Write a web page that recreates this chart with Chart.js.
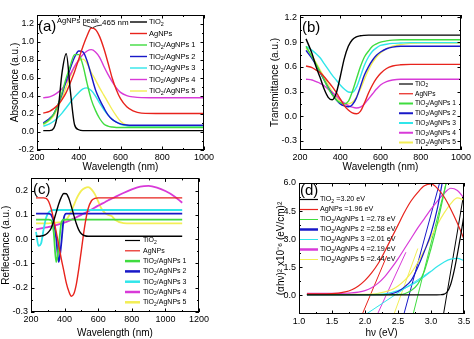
<!DOCTYPE html>
<html>
<head>
<meta charset="utf-8">
<script src="https://cdn.jsdelivr.net/npm/chart.js@4.4.0/dist/chart.umd.min.js"></script>
<style>
  body { margin: 0; background: #fff; }
  #wrap { position: relative; width: 474px; height: 339px; overflow: hidden; }
  canvas { position: absolute; }
</style>
</head>
<body>
<div id="wrap">
  <canvas id="chartA" width="237" height="176" style="left:0;top:0"></canvas>
  <canvas id="chartB" width="237" height="176" style="left:237px;top:0"></canvas>
  <canvas id="chartC" width="237" height="169" style="left:0;top:170px"></canvas>
  <canvas id="chartD" width="237" height="169" style="left:237px;top:170px"></canvas>
</div>
<script>
const FONT = '"Liberation Sans", Arial, sans-serif';

const NAMES = ["TiO₂", "AgNPs", "TiO₂/AgNPs 1", "TiO₂/AgNPs 2", "TiO₂/AgNPs 3", "TiO₂/AgNPs 4", "TiO₂/AgNPs 5"];
const COLORS = ["#000000", "#e8231c", "#3fdc3f", "#1818c8", "#30e6ea", "#d83ad8", "#f3ee55"];

// (a) absorbance
const ABS_WL = [230, 260, 280, 300, 320, 340, 360, 380, 400, 420, 440, 460, 480, 500, 520, 540, 560, 580, 600, 630, 660, 700, 800, 1000];
const ABS_TIO2 = [0.015, 0.015, 0.04, 0.22, 0.66, 0.87, 0.45, 0.08, 0.025, 0.015, 0.015, 0.015, 0.015, 0.015, 0.015, 0.015, 0.015, 0.015, 0.015, 0.015, 0.015, 0.015, 0.015, 0.015];
const ABS_AG = [0.21, 0.23, 0.26, 0.3, 0.36, 0.44, 0.55, 0.67, 0.81, 0.95, 1.07, 1.155, 1.14, 1.06, 0.93, 0.77, 0.6, 0.47, 0.37, 0.28, 0.235, 0.21, 0.205, 0.205];
const ABS_1 = [0.09, 0.14, 0.2, 0.3, 0.44, 0.6, 0.74, 0.86, 0.86, 0.74, 0.54, 0.36, 0.24, 0.15, 0.09, 0.065, 0.055, 0.05, 0.05, 0.05, 0.05, 0.05, 0.05, 0.05];
const ABS_2 = [0.1, 0.15, 0.2, 0.3, 0.42, 0.57, 0.71, 0.83, 0.9, 0.89, 0.79, 0.63, 0.47, 0.36, 0.27, 0.19, 0.14, 0.11, 0.09, 0.077, 0.075, 0.075, 0.075, 0.075];
const ABS_3 = [0.065, 0.09, 0.12, 0.16, 0.21, 0.27, 0.33, 0.39, 0.44, 0.48, 0.49, 0.46, 0.4, 0.32, 0.25, 0.19, 0.14, 0.11, 0.085, 0.07, 0.065, 0.065, 0.065, 0.065];
const ABS_4 = [0.38, 0.39, 0.41, 0.44, 0.48, 0.55, 0.64, 0.73, 0.8, 0.86, 0.9, 0.915, 0.89, 0.83, 0.73, 0.64, 0.56, 0.49, 0.44, 0.405, 0.39, 0.382, 0.38, 0.38];
const ABS_5 = [0.08, 0.13, 0.18, 0.27, 0.38, 0.5, 0.62, 0.72, 0.79, 0.81, 0.76, 0.66, 0.58, 0.49, 0.41, 0.33, 0.25, 0.18, 0.12, 0.075, 0.06, 0.06, 0.06, 0.06];

// (b) transmittance
const TR_WL = [230, 260, 280, 300, 320, 340, 360, 380, 400, 420, 440, 460, 480, 500, 520, 540, 560, 580, 600, 630, 660, 700, 750, 800, 1000];
const TR_TIO2 = [0.94, 0.76, 0.6, 0.47, 0.33, 0.23, 0.2, 0.28, 0.48, 0.7, 0.85, 0.93, 0.965, 0.978, 0.983, 0.985, 0.985, 0.985, 0.985, 0.985, 0.985, 0.985, 0.985, 0.985, 0.985];
const TR_AG = [0.61, 0.59, 0.56, 0.53, 0.48, 0.42, 0.36, 0.29, 0.21, 0.13, 0.075, 0.04, 0.03, 0.06, 0.16, 0.28, 0.38, 0.46, 0.52, 0.58, 0.61, 0.625, 0.63, 0.63, 0.63];
const TR_1 = [0.85, 0.72, 0.63, 0.54, 0.44, 0.34, 0.26, 0.2, 0.165, 0.15, 0.18, 0.3, 0.45, 0.6, 0.72, 0.79, 0.85, 0.88, 0.9, 0.915, 0.925, 0.93, 0.93, 0.93, 0.93];
const TR_2 = [0.8, 0.7, 0.62, 0.53, 0.44, 0.35, 0.27, 0.2, 0.15, 0.125, 0.115, 0.14, 0.22, 0.36, 0.5, 0.6, 0.68, 0.74, 0.78, 0.82, 0.84, 0.85, 0.85, 0.85, 0.85];
const TR_3 = [0.85, 0.8, 0.76, 0.71, 0.64, 0.57, 0.5, 0.44, 0.38, 0.33, 0.295, 0.29, 0.35, 0.48, 0.62, 0.72, 0.79, 0.83, 0.86, 0.875, 0.885, 0.89, 0.895, 0.895, 0.895];
const TR_4 = [0.45, 0.44, 0.42, 0.4, 0.37, 0.33, 0.29, 0.25, 0.2, 0.16, 0.13, 0.11, 0.1, 0.11, 0.15, 0.21, 0.27, 0.33, 0.38, 0.42, 0.44, 0.45, 0.45, 0.45, 0.45];
const TR_5 = [0.83, 0.73, 0.65, 0.56, 0.47, 0.38, 0.3, 0.23, 0.18, 0.155, 0.15, 0.17, 0.23, 0.33, 0.45, 0.56, 0.65, 0.72, 0.77, 0.82, 0.85, 0.87, 0.885, 0.89, 0.89];

// (c) reflectance
const REFL_WL = [230, 245, 260, 275, 290, 305, 320, 335, 350, 365, 380, 395, 410, 425, 440, 455, 470, 485, 500, 520, 540, 560, 580, 600, 620, 640, 660, 680, 700, 750, 800, 850, 900, 950, 1000, 1050, 1100];
const REFL_TIO2 = [0.012, 0.012, 0.013, 0.015, 0.02, 0.03, 0.045, 0.075, 0.11, 0.145, 0.172, 0.188, 0.187, 0.168, 0.135, 0.098, 0.063, 0.037, 0.022, 0.014, 0.012, 0.012, 0.012, 0.012, 0.012, 0.012, 0.012, 0.012, 0.012, 0.012, 0.012, 0.012, 0.012, 0.012, 0.012, 0.012, 0.012];
const REFL_AG = [0.17, 0.17, 0.17, 0.17, 0.168, 0.155, 0.125, 0.08, 0.03, -0.025, -0.08, -0.13, -0.18, -0.215, -0.235, -0.225, -0.185, -0.12, -0.045, 0.055, 0.125, 0.158, 0.168, 0.17, 0.17, 0.17, 0.17, 0.17, 0.17, 0.17, 0.17, 0.17, 0.17, 0.17, 0.17, 0.17, 0.17];
const REFL_1 = [0.08, 0.08, 0.08, 0.08, 0.08, 0.08, 0.078, 0.03, -0.095, -0.03, 0.065, 0.08, 0.08, 0.08, 0.08, 0.08, 0.08, 0.08, 0.08, 0.08, 0.08, 0.08, 0.08, 0.08, 0.08, 0.08, 0.08, 0.08, 0.08, 0.08, 0.08, 0.08, 0.08, 0.08, 0.08, 0.08, 0.08];
const REFL_2 = [0.105, 0.105, 0.105, 0.105, 0.105, 0.105, 0.1, 0.07, 0.005, -0.095, -0.02, 0.085, 0.105, 0.105, 0.105, 0.105, 0.105, 0.105, 0.105, 0.105, 0.105, 0.105, 0.105, 0.105, 0.105, 0.105, 0.105, 0.105, 0.105, 0.105, 0.105, 0.105, 0.105, 0.105, 0.105, 0.105, 0.105];
const REFL_3 = [0.03, -0.028, -0.018, 0.04, 0.088, 0.11, 0.118, 0.12, 0.12, 0.12, 0.12, 0.12, 0.12, 0.12, 0.12, 0.12, 0.12, 0.12, 0.12, 0.12, 0.12, 0.12, 0.12, 0.12, 0.12, 0.12, 0.12, 0.12, 0.12, 0.12, 0.12, 0.12, 0.12, 0.12, 0.12, 0.12, 0.12];
const REFL_4 = [0.04, 0.042, 0.044, 0.046, 0.048, 0.05, 0.053, 0.055, 0.058, 0.061, 0.064, 0.067, 0.071, 0.075, 0.08, 0.085, 0.09, 0.095, 0.1, 0.107, 0.115, 0.122, 0.13, 0.138, 0.145, 0.152, 0.16, 0.166, 0.173, 0.19, 0.205, 0.216, 0.219, 0.212, 0.198, 0.178, 0.15];
const REFL_5 = [0.065, 0.065, 0.065, 0.065, 0.065, 0.065, 0.066, 0.067, 0.068, 0.069, 0.07, 0.074, 0.08, 0.095, 0.115, 0.14, 0.165, 0.185, 0.2, 0.21, 0.214, 0.205, 0.185, 0.155, 0.125, 0.108, 0.1, 0.095, 0.08, 0.066, 0.065, 0.065, 0.065, 0.065, 0.065, 0.065, 0.065];

// (d) Tauc plot
const TAUC_EV = [1.12, 1.3, 1.5, 1.6, 1.7, 1.8, 1.9, 2.0, 2.1, 2.2, 2.3, 2.4, 2.5, 2.6, 2.7, 2.8, 2.9, 3.0, 3.1, 3.2, 3.3, 3.4, 3.5];
const TAUC_TIO2_EV = [1.12, 2.0, 3.0, 3.15, 3.2, 3.25, 3.3, 3.35, 3.4, 3.45, 3.5];
const TAUC_TIO2 = [0.02, 0.02, 0.02, 0.03, 0.06, 0.2, 0.6, 1.3, 2.2, 3.2, 4.3];
const TAUC_AG = [0.08, 0.08, 0.09, 0.12, 0.18, 0.3, 0.5, 0.8, 1.2, 1.7, 2.35, 3.05, 3.75, 4.45, 5.05, 5.5, 5.85, 5.95, 5.7, 5.25, 4.6, 3.85, 3.0];
const TAUC_1 = [0.03, 0.03, 0.03, 0.03, 0.03, 0.03, 0.03, 0.03, 0.03, 0.03, 0.03, 0.03, 0.04, 0.08, 0.25, 0.6, 1.3, 2.5, 3.9, 5.5, 7.2];
const TAUC_2 = [0.03, 0.03, 0.03, 0.03, 0.03, 0.03, 0.03, 0.03, 0.03, 0.03, 0.04, 0.08, 0.2, 0.45, 0.8, 1.5, 2.35, 3.3, 4.7, 6.6];
const TAUC_3 = [0.03, 0.03, 0.03, 0.03, 0.03, 0.03, 0.03, 0.03, 0.03, 0.05, 0.08, 0.15, 0.25, 0.38, 0.55, 0.75, 1.0, 1.28, 1.55, 1.78, 1.93, 1.97, 1.85];
const TAUC_4 = [0.1, 0.1, 0.1, 0.1, 0.11, 0.13, 0.17, 0.25, 0.4, 0.65, 1.0, 1.45, 1.95, 2.5, 3.05, 3.6, 4.1, 4.6, 5.05, 5.45, 5.72, 5.6, 5.2];
const TAUC_5 = [0.05, 0.05, 0.05, 0.05, 0.05, 0.05, 0.05, 0.05, 0.06, 0.1, 0.18, 0.3, 0.5, 0.8, 1.2, 1.75, 2.4, 3.1, 3.8, 4.4, 4.9, 5.2, 5.1];
// linear fits (TiO2, AgNPs, 1..5): end points
const FIT_X = [[3.19, 3.5], [1.96, 2.33], [2.73, 3.23], [2.59, 3.13], [2.02, 2.98], [2.19, 2.62], [2.44, 2.8]];
const FIT_Y = [[-1, 5.5], [-1, 2.1], [-1, 6], [-1, 6], [-1, 1.25], [-1, 2.3], [-1, 2.5]];
const GAP_LABELS = ["TiO₂ =3.20 eV", "AgNPs =1.96 eV", "TiO₂/AgNPs 1 =2.78 eV", "TiO₂/AgNPs 2 =2.58 eV", "TiO₂/AgNPs 3 =2.01 eV", "TiO₂/AgNPs 4 =2.19 eV", "TiO₂/AgNPs 5 =2.44 eV"];

const series = (xs, ys, i, width) => ({
  label: NAMES[i],
  data: ys.map((y, k) => ({ x: xs[k], y })),
  borderColor: COLORS[i],
  borderWidth: width || 1.3,
  pointRadius: 0,
  showLine: true,
  fill: false,
  cubicInterpolationMode: "monotone",
});

// draw "TiO₂" with a real subscript
const richText = (ctx, str, x, y, size) => {
  const parts = str.split("₂");
  let cx = x;
  parts.forEach((p, i) => {
    ctx.font = `${size}px ${FONT}`;
    ctx.fillText(p, cx, y);
    cx += ctx.measureText(p).width;
    if (i < parts.length - 1) {
      ctx.font = `${size * 0.72}px ${FONT}`;
      ctx.fillText("2", cx, y + size * 0.28);
      cx += ctx.measureText("2").width;
    }
  });
};

const axis = ({ min, max, ticks, digits, size, title, titlePad, tickPad }) => ({
  type: "linear",
  min,
  max,
  afterBuildTicks: (s) => {
    s.ticks = ticks.map((v) => ({ value: v }));
  },
  afterFit: (s) => {
    if (s.isHorizontal()) s.height = size;
    else s.width = size;
  },
  grid: { display: false, drawTicks: false },
  border: { display: false },
  ticks: {
    color: "#000",
    padding: tickPad,
    autoSkip: false,
    maxRotation: 0,
    font: { family: FONT, size: 9 },
    callback: (v) => Number(v).toFixed(digits),
  },
  title: { display: true, text: title, color: "#000", padding: titlePad, font: { family: FONT, size: 10 } },
});

// box + inward major/minor ticks on all four sides
const framePlugin = {
  id: "frame",
  afterDatasetsDraw(chart) {
    const { ctx, chartArea: a, scales } = chart;
    ctx.save();
    ctx.strokeStyle = "#000";
    ctx.lineWidth = 1;
    ctx.strokeRect(Math.round(a.left) + 0.5, Math.round(a.top) + 0.5, Math.round(a.right - a.left) - 1, Math.round(a.bottom - a.top) - 1);
    ctx.beginPath();
    ["x", "y"].forEach((id) => {
      const s = scales[id];
      const vals = s.ticks.map((t) => t.value);
      const marks = vals.map((v) => [v, 3.5]);
      for (let k = 0; k < vals.length - 1; k++) marks.push([(vals[k] + vals[k + 1]) / 2, 2]);
      marks.forEach(([v, len]) => {
        if (v < s.min || v > s.max) return;
        const p = Math.round(s.getPixelForValue(v)) + 0.5;
        if (id === "x") {
          ctx.moveTo(p, a.bottom); ctx.lineTo(p, a.bottom - len);
          ctx.moveTo(p, a.top); ctx.lineTo(p, a.top + len);
        } else {
          ctx.moveTo(a.left, p); ctx.lineTo(a.left + len, p);
          ctx.moveTo(a.right, p); ctx.lineTo(a.right - len, p);
        }
      });
    });
    ctx.stroke();
    ctx.restore();
  },
};

const decor = (cfg) => ({
  id: "decor",
  afterDraw(chart) {
    const { ctx, chartArea: a } = chart;
    ctx.save();
    ctx.fillStyle = "#000";
    ctx.textBaseline = "middle";
    ctx.font = `15px ${FONT}`;
    ctx.fillText(cfg.letter, a.left + cfg.letterDx, a.top + cfg.letterDy);
    const L = cfg.legend;
    L.labels.forEach((lab, i) => {
      const y = L.y + i * L.dy;
      ctx.strokeStyle = COLORS[i];
      ctx.lineWidth = L.widths[i];
      ctx.beginPath();
      ctx.moveTo(L.x0, y);
      ctx.lineTo(L.x1, y);
      ctx.stroke();
      ctx.fillStyle = "#000";
      richText(ctx, lab, L.tx, y, L.size);
    });
    if (cfg.extra) cfg.extra(ctx, chart);
    ctx.restore();
  },
});

const makeChart = (id, cfg) =>
  new Chart(document.getElementById(id), {
    type: "scatter",
    data: { datasets: cfg.datasets },
    options: {
      responsive: false,
      animation: false,
      events: [],
      layout: { padding: cfg.padding },
      plugins: { legend: { display: false }, tooltip: { enabled: false } },
      scales: { x: cfg.x, y: cfg.y },
    },
    plugins: [framePlugin, decor(cfg)],
  });

// (a)
makeChart("chartA", {
  datasets: [ABS_TIO2, ABS_AG, ABS_1, ABS_2, ABS_3, ABS_4, ABS_5].map((ys, i) => series(ABS_WL, ys, i, 1.4)),
  padding: { top: 15, right: 33, left: 0, bottom: 0 },
  x: axis({ min: 200, max: 1000, ticks: [200, 400, 600, 800, 1000], digits: 0, size: 26, title: "Wavelength (nm)", titlePad: { top: 0, bottom: 3 }, tickPad: 2 }),
  y: axis({ min: -0.2, max: 1.3, ticks: [-0.2, 0, 0.2, 0.4, 0.6, 0.8, 1.0, 1.2], digits: 1, size: 37, title: "Absorbance (a.u.)", titlePad: { top: 9, bottom: 0 }, tickPad: 3 }),
  letter: "(a)", letterDx: 1, letterDy: 12,
  legend: { labels: NAMES, x0: 130, x1: 147, tx: 149, y: 22, dy: 11.5, size: 7.5, widths: [1.4, 1.4, 1.4, 1.4, 1.4, 1.4, 1.4] },
  extra: (ctx, chart) => {
    const { x, y } = chart.scales;
    const px = x.getPixelForValue(465);
    const py = y.getPixelForValue(1.16);
    ctx.fillStyle = "#000";
    ctx.font = `7.5px ${FONT}`;
    ctx.fillText("AgNPs peak", 57, 21);
    ctx.font = `8px ${FONT}`;
    ctx.fillText("465 nm", 102, 23);
    ctx.strokeStyle = "#000";
    ctx.lineWidth = 0.8;
    ctx.beginPath();
    ctx.moveTo(83, 25);
    ctx.quadraticCurveTo(88, 26, px - 0.5, py);
    ctx.moveTo(102, 25);
    ctx.quadraticCurveTo(96, 25.5, px + 0.5, py);
    ctx.stroke();
  },
});

// (b)
makeChart("chartB", {
  datasets: [TR_TIO2, TR_AG, TR_1, TR_2, TR_3, TR_4, TR_5].map((ys, i) => series(TR_WL, ys, i, 1.4)),
  padding: { top: 15, right: 13, left: 0, bottom: 0 },
  x: axis({ min: 200, max: 1000, ticks: [200, 400, 600, 800, 1000], digits: 0, size: 26, title: "Wavelength (nm)", titlePad: { top: 0, bottom: 3 }, tickPad: 2 }),
  y: axis({ min: -0.41, max: 1.23, ticks: [-0.3, 0, 0.3, 0.6, 0.9, 1.2], digits: 1, size: 63, title: "Transmittance (a.u.)", titlePad: { top: 32, bottom: 0 }, tickPad: 3 }),
  letter: "(b)", letterDx: 2, letterDy: 13,
  legend: { labels: NAMES, x0: 162, x1: 176, tx: 178, y: 84, dy: 9.75, size: 6.6, widths: [1.2, 1.2, 2, 2, 2, 2, 2] },
});

// (c)
makeChart("chartC", {
  datasets: [REFL_TIO2, REFL_AG, REFL_1, REFL_2, REFL_3, REFL_4, REFL_5].map((ys, i) => series(REFL_WL, ys, i, i >= 2 ? 1.8 : 1.4)),
  padding: { top: 7, right: 38, left: 0, bottom: 0 },
  x: axis({ min: 200, max: 1200, ticks: [200, 400, 600, 800, 1000, 1200], digits: 0, size: 27, title: "Wavelength (nm)", titlePad: { top: 0, bottom: 0 }, tickPad: 2 }),
  y: axis({ min: -0.3, max: 0.25, ticks: [-0.3, -0.2, -0.1, 0, 0.1, 0.2], digits: 1, size: 31, title: "Reflectance (a.u.)", titlePad: { top: 0, bottom: 0 }, tickPad: 3 }),
  letter: "(c)", letterDx: 2, letterDy: 11,
  legend: { labels: NAMES, x0: 125, x1: 140, tx: 143, y: 70.5, dy: 10.3, size: 7, widths: [1.2, 1.2, 2.5, 2.5, 2.5, 2.5, 2.5] },
});

// (d)
const tauc = [TAUC_TIO2, TAUC_AG, TAUC_1, TAUC_2, TAUC_3, TAUC_4, TAUC_5].map((ys, i) => series(i === 0 ? TAUC_TIO2_EV : TAUC_EV, ys, i, 1.2));
const fits = FIT_X.map((xs, i) => ({ ...series(xs, FIT_Y[i], i, 1), label: NAMES[i] + " fit" }));
makeChart("chartD", {
  datasets: [...tauc, ...fits],
  padding: { top: 13, right: 10, left: 0, bottom: 0 },
  x: axis({ min: 1.0, max: 3.5, ticks: [1.0, 1.5, 2.0, 2.5, 3.0, 3.5], digits: 1, size: 25, title: "hν (eV)", titlePad: { top: 0, bottom: 0 }, tickPad: 2 }),
  y: axis({ min: -1, max: 6, ticks: [0, 1.5, 3.0, 4.5, 6.0], digits: 1, size: 62, title: "(αhν)² x10⁻⁶ (eV/cm)²", titlePad: { top: 38, bottom: 0 }, tickPad: 3 }),
  letter: "(d)", letterDx: 1, letterDy: 8,
  legend: { labels: GAP_LABELS, x0: 63, x1: 81, tx: 83, y: 29.5, dy: 10, size: 7.2, widths: [1.2, 1.2, 1, 2.5, 1, 2.5, 1] },
});
</script>
</body>
</html>
